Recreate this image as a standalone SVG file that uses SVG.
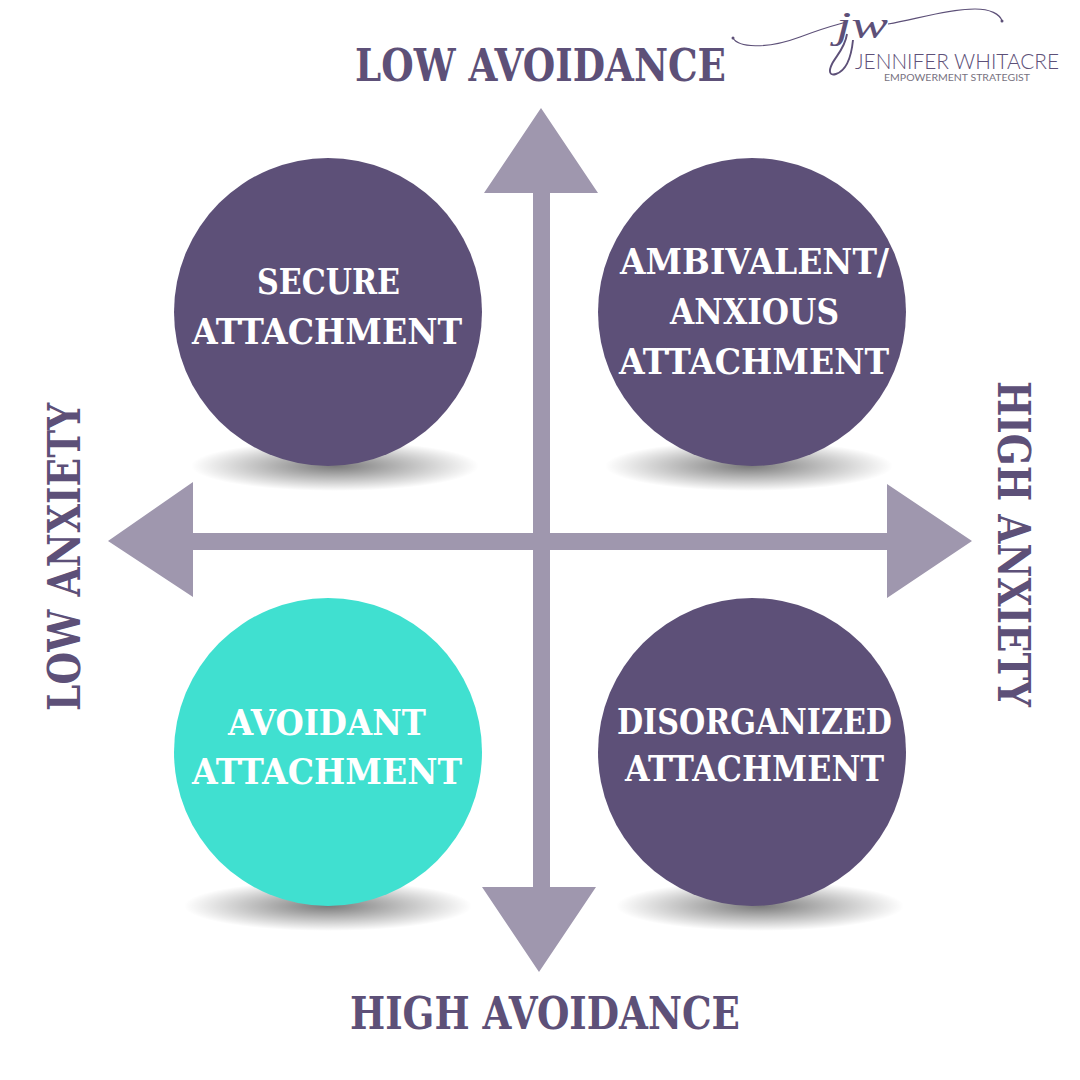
<svg xmlns="http://www.w3.org/2000/svg" width="1080" height="1080" viewBox="0 0 1080 1080">
<style>
.t{font-family:"DejaVu Serif","Liberation Serif",serif;font-weight:700;fill:#5d5078;font-size:44px}
.c{font-family:"DejaVu Serif","Liberation Serif",serif;font-weight:700;fill:#fff;font-size:36px}
.a{fill:#9f97ae}
.p{fill:#5d5078}
</style>
<defs>
<radialGradient id="sh"><stop offset="0" stop-color="#000" stop-opacity=".52"/><stop offset=".5" stop-color="#000" stop-opacity=".26"/><stop offset="1" stop-color="#000" stop-opacity="0"/></radialGradient>
</defs>
<rect width="1080" height="1080" fill="#fff"/>
<g id="connectors">
<path class="a" d="M533 193H484L541 108L598 193H550V533H887V484L972 541L887 598V550H550V887H596L539 972L482 887H533V550H193V597L108 541L193 482V533H533Z"/>
</g>
<g id="node-secure">
<ellipse cx="335" cy="466" rx="144" ry="25" fill="url(#sh)"/>
<circle class="p" cx="328" cy="312" r="154"/>
<text class="c" x="257" y="294" textLength="143" lengthAdjust="spacingAndGlyphs">SECURE</text>
<text class="c" x="192" y="344" textLength="270" lengthAdjust="spacingAndGlyphs">ATTACHMENT</text>
</g>
<g id="node-ambivalent">
<ellipse cx="749" cy="466" rx="144" ry="25" fill="url(#sh)"/>
<circle class="p" cx="752" cy="312" r="154"/>
<text class="c" x="620" y="274" textLength="269" lengthAdjust="spacingAndGlyphs">AMBIVALENT/</text>
<text class="c" x="670" y="324" textLength="169" lengthAdjust="spacingAndGlyphs">ANXIOUS</text>
<text class="c" x="619" y="374" textLength="270" lengthAdjust="spacingAndGlyphs">ATTACHMENT</text>
</g>
<g id="node-avoidant">
<ellipse cx="328" cy="906" rx="144" ry="25" fill="url(#sh)"/>
<circle cx="328" cy="752" r="154" fill="#40e0d0"/>
<text class="c" x="228" y="735" textLength="198" lengthAdjust="spacingAndGlyphs">AVOIDANT</text>
<text class="c" x="192" y="784" textLength="270" lengthAdjust="spacingAndGlyphs">ATTACHMENT</text>
</g>
<g id="node-disorganized">
<ellipse cx="760" cy="906" rx="144" ry="25" fill="url(#sh)"/>
<circle class="p" cx="752" cy="752" r="154"/>
<text class="c" x="617" y="734" textLength="275" lengthAdjust="spacingAndGlyphs">DISORGANIZED</text>
<text class="c" x="625" y="781" textLength="259" lengthAdjust="spacingAndGlyphs">ATTACHMENT</text>
</g>
<g id="axis-labels">
<text class="t" x="355" y="81" textLength="371" lengthAdjust="spacingAndGlyphs">LOW AVOIDANCE</text>
<text class="t" x="350" y="1029" textLength="390" lengthAdjust="spacingAndGlyphs">HIGH AVOIDANCE</text>
<text class="t" transform="translate(80 711) rotate(-90)" textLength="308" lengthAdjust="spacingAndGlyphs">LOW ANXIETY</text>
<text class="t" transform="translate(998 381) rotate(90)" textLength="326" lengthAdjust="spacingAndGlyphs">HIGH ANXIETY</text>
</g>
<g id="logo">
<path d="M733 38C738 47 765 50 800 37S838 25 846 22M888 24C920 18 950 9 975 9C990 9 1000 14 1002 21" fill="none" stroke="#5d5078" stroke-width="1.2"/>
<circle class="p" cx="733" cy="38" r="1.5"/><circle class="p" cx="1002" cy="21" r="1.5"/>
<text x="836" y="38" style="font-family:'Liberation Serif',serif;font-style:italic;font-size:38px" fill="#5d5078" textLength="52" lengthAdjust="spacingAndGlyphs">jw</text>
<path d="M847 34C845 48 836 56 832 64C828 72 830 76 836 74C845 71 851 60 853 40" fill="none" stroke="#5d5078" stroke-width="1.9"/>
<text x="855" y="69" style="font-family:Lato,sans-serif;font-weight:300;font-size:22px" fill="#5d5078" textLength="204" lengthAdjust="spacingAndGlyphs">JENNIFER WHITACRE</text>
<text x="884" y="81" style="font-family:Lato,sans-serif;font-weight:400;font-size:9.5px" fill="#77727f" textLength="146" lengthAdjust="spacingAndGlyphs">EMPOWERMENT STRATEGIST</text>
</g>
</svg>
